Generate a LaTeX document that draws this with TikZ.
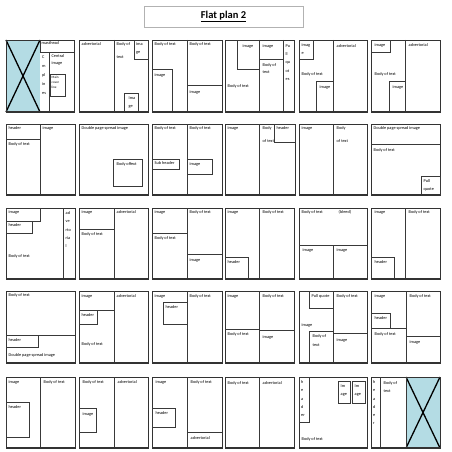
\documentclass[tikz,border=0pt]{standalone}
\usepackage{fontspec}
\setmainfont{Carlito}
\definecolor{coverblue}{RGB}{180,220,228}
\tikzset{
  frame/.style={draw=gray!40!black,line width=0.6pt},
  base/.style={draw=gray!40!black,line width=1.3pt},
  part/.style={draw=gray!45!black,line width=0.45pt},
  cover/.style={fill=coverblue},
  cross/.style={draw=black,line width=1.3pt},
  lbl/.style={font=\fontsize{4.3}{6.5}\selectfont,anchor=north west,inner sep=0.5pt,align=left},
  stack/.style={lbl,font=\fontsize{4.3}{8.2}\selectfont}
}
\begin{document}
\begin{tikzpicture}[x=1pt,y=-1pt]
  \useasboundingbox (0,0) rectangle (452,452);
  % title
  \draw[frame,draw=gray!60] (144,6) rectangle (303,27);
  \node[font=\fontsize{10.5}{12}\selectfont\bfseries] (title) at (223.5,16.5) {\underline{Flat plan 2}};

  % ---------- row 1 ----------
  \fill[cover] (6,40) rectangle (40,112);
  \draw[cross] (6,40) -- (40,112);
  \draw[cross] (40,40) -- (6,112);
  \draw[part] (40,40) rectangle (74,52);
  \draw[part] (49,52) -- (49,112);
  \draw[part] (50,74) rectangle (65,96);
  \draw[frame] (6,40) rectangle (74,112);
  \draw[base] (6,112) -- (74,112);
  \node[lbl] (a1) at (41,41) {masthead};
  \node[stack,font=\fontsize{4.3}{9}\selectfont] (a2) at (41.5,55) {C\\m\\pl\\in\\es};
  \node[lbl] (a3) at (51,54) {Central\\image};
  \node[lbl,font=\fontsize{3.3}{5}\selectfont] (a4) at (51,76) {Main\\cover\\line};

  \draw[frame] (79,40) rectangle (148,112);
  \draw[part] (114,40) -- (114,112);
  \draw[part] (134,40) rectangle (148,59);
  \draw[part] (124,93) rectangle (138,112);
  \draw[base] (79,112) -- (148,112);
  \node[lbl] (b1) at (81,42) {advertorial};
  \node[lbl,font=\fontsize{4.3}{13}\selectfont] (b2) at (116,42) {Body of\\text};
  \node[stack] (b3) at (135.5,42) {ima\\ge};
  \node[stack] (b4) at (128,96) {Ima\\ge};

  \draw[frame] (152,40) rectangle (222,112);
  \draw[part] (187,40) -- (187,112);
  \draw[part] (152,69) rectangle (172,112);
  \draw[part] (187,85) -- (222,85);
  \draw[base] (152,112) -- (222,112);
  \node[lbl] (c1) at (154,42) {Body of text};
  \node[lbl] (c2) at (189,42) {Body of text};
  \node[lbl] (c3) at (154,73) {image};
  \node[lbl] (c4) at (189,90) {image};

  \draw[frame] (225,40) rectangle (294,112);
  \draw[part] (259,40) -- (259,112);
  \draw[part] (237,40) rectangle (259,69);
  \draw[part] (259,59) -- (283,59);
  \draw[part] (283,40) -- (283,112);
  \draw[base] (225,112) -- (294,112);
  \node[lbl] (d1) at (242,44) {image};
  \node[lbl] (d2) at (227,84) {Body of text};
  \node[lbl] (d3) at (262,44) {image};
  \node[lbl] (d4) at (262,63) {Body of\\text};
  \node[stack] (d5) at (285,44) {Pu\\ll\\qu\\ot\\es};

  \draw[frame] (299,40) rectangle (367,112);
  \draw[part] (333,40) -- (333,112);
  \draw[part] (299,40) rectangle (313,59);
  \draw[part] (316,81) rectangle (333,112);
  \draw[base] (299,112) -- (367,112);
  \node[stack] (e1) at (301,43) {imag\\e};
  \node[lbl] (e2) at (301,72) {Body of text};
  \node[lbl] (e3) at (319,85) {image};
  \node[lbl] (e4) at (336,44) {advertorial};

  \draw[frame] (371,40) rectangle (440,112);
  \draw[part] (405,40) -- (405,112);
  \draw[part] (371,40) rectangle (390,52);
  \draw[part] (389,81) rectangle (405,112);
  \draw[base] (371,112) -- (440,112);
  \node[lbl] (f1) at (374,43) {image};
  \node[lbl] (f2) at (374,72) {Body of text};
  \node[lbl] (f3) at (392,85) {image};
  \node[lbl] (f4) at (408,43) {advertorial};

  % ---------- row 2 ----------
  \draw[frame] (6,124) rectangle (75,195);
  \draw[part] (40,124) -- (40,195);
  \draw[part] (6,124) rectangle (40,139);
  \draw[base] (6,195) -- (75,195);
  \node[lbl] (g1) at (8,126) {header};
  \node[lbl] (g2) at (8,142) {Body of text};
  \node[lbl] (g3) at (42,126) {image};

  \draw[frame] (79,124) rectangle (148,195);
  \draw[part] (113,159) rectangle (142,186);
  \draw[base] (79,195) -- (148,195);
  \node[lbl] (h1) at (81,126) {Double page spread image};
  \node[lbl] (h2) at (116,162) {Body offext};

  \draw[frame] (152,124) rectangle (222,195);
  \draw[part] (187,124) -- (187,195);
  \draw[part] (152,159) rectangle (179,169);
  \draw[part] (187,159) rectangle (212,174);
  \draw[base] (152,195) -- (222,195);
  \node[lbl] (i1) at (154,126) {Body of text};
  \node[lbl] (i2) at (189,126) {Body of text};
  \node[lbl] (i3) at (154,161) {Sub header};
  \node[lbl] (i4) at (189,162) {image};

  \draw[frame] (225,124) rectangle (295,195);
  \draw[part] (259,124) -- (259,195);
  \draw[part] (274,124) rectangle (295,142);
  \draw[base] (225,195) -- (295,195);
  \node[lbl] (j1) at (227,126) {image};
  \node[lbl,font=\fontsize{4.3}{13}\selectfont] (j2) at (262,126) {Body\\of text};
  \node[lbl] (j3) at (276,126) {header};

  \draw[frame] (299,124) rectangle (367,195);
  \draw[part] (333,124) -- (333,195);
  \draw[base] (299,195) -- (367,195);
  \node[lbl] (k1) at (301,126) {image};
  \node[lbl,font=\fontsize{4.3}{13}\selectfont] (k2) at (336,126) {Body\\of text};

  \draw[frame] (371,124) rectangle (440,195);
  \draw[part] (371,144) -- (440,144);
  \draw[part] (421,176) rectangle (440,195);
  \draw[base] (371,195) -- (440,195);
  \node[lbl] (l1) at (373,126) {Double page spread image};
  \node[lbl] (l2) at (373,148) {Body of text};
  \node[lbl,font=\fontsize{4.3}{8}\selectfont] (l3) at (423,179) {Pull\\quote};

  % ---------- row 3 ----------
  \draw[frame] (6,208) rectangle (75,279);
  \draw[part] (6,208) rectangle (40,221);
  \draw[part] (6,221) rectangle (32,233);
  \draw[part] (63,208) -- (63,279);
  \draw[base] (6,279) -- (75,279);
  \node[lbl] (m1) at (8,210) {image};
  \node[lbl] (m2) at (8,223) {header};
  \node[lbl] (m3) at (8,254) {Body of text};
  \node[stack] (m4) at (65,211) {ad\\ve\\rto\\ria\\l};

  \draw[frame] (79,208) rectangle (148,279);
  \draw[part] (114,208) -- (114,279);
  \draw[part] (79,229) -- (114,229);
  \draw[base] (79,279) -- (148,279);
  \node[lbl] (n1) at (81,210) {image};
  \node[lbl] (n2) at (81,232) {Body of text};
  \node[lbl] (n3) at (116,210) {advertorial};

  \draw[frame] (152,208) rectangle (222,279);
  \draw[part] (187,208) -- (187,279);
  \draw[part] (152,233) -- (187,233);
  \draw[part] (187,254) -- (222,254);
  \draw[base] (152,279) -- (222,279);
  \node[lbl] (o1) at (154,210) {image};
  \node[lbl] (o2) at (154,236) {Body of text};
  \node[lbl] (o3) at (189,210) {Body of text};
  \node[lbl] (o4) at (189,258) {image};

  \draw[frame] (225,208) rectangle (294,279);
  \draw[part] (259,208) -- (259,279);
  \draw[part] (225,257) rectangle (248,279);
  \draw[base] (225,279) -- (294,279);
  \node[lbl] (p1) at (227,210) {image};
  \node[lbl] (p2) at (227,260) {header};
  \node[lbl] (p3) at (262,210) {Body of text};

  \draw[frame] (299,208) rectangle (367,279);
  \draw[part] (299,245) -- (367,245);
  \draw[part] (333,245) -- (333,279);
  \draw[base] (299,279) -- (367,279);
  \node[lbl] (q1) at (301,210) {Body of text};
  \node[lbl] (q2) at (338,210) {(bleed)};
  \node[lbl] (q3) at (302,248) {image};
  \node[lbl] (q4) at (336,248) {image};

  \draw[frame] (371,208) rectangle (440,279);
  \draw[part] (405,208) -- (405,279);
  \draw[part] (371,257) rectangle (394,279);
  \draw[base] (371,279) -- (440,279);
  \node[lbl] (r1) at (374,210) {image};
  \node[lbl] (r2) at (374,260) {header};
  \node[lbl] (r3) at (408,210) {Body of text};

  % ---------- row 4 ----------
  \draw[frame] (6,291) rectangle (75,363);
  \draw[part] (6,335) -- (75,335);
  \draw[part] (6,335) rectangle (38,347);
  \draw[base] (6,363) -- (75,363);
  \node[lbl] (s1) at (8,293) {Body of text};
  \node[lbl] (s2) at (8,338) {header};
  \node[lbl] (s3) at (8,353) {Double page spread image};

  \draw[frame] (79,291) rectangle (148,363);
  \draw[part] (114,291) -- (114,363);
  \draw[part] (79,310) -- (114,310);
  \draw[part] (79,310) rectangle (97,324);
  \draw[base] (79,363) -- (148,363);
  \node[lbl] (t1) at (81,294) {image};
  \node[lbl] (t2) at (81,313) {header};
  \node[lbl] (t3) at (81,342) {Body of text};
  \node[lbl] (t4) at (116,294) {advertorial};

  \draw[frame] (152,291) rectangle (222,363);
  \draw[part] (187,291) -- (187,363);
  \draw[part] (163,302) rectangle (187,324);
  \draw[base] (152,363) -- (222,363);
  \node[lbl] (u1) at (154,294) {image};
  \node[lbl] (u2) at (165,305) {header};
  \node[lbl] (u3) at (189,294) {Body of text};

  \draw[frame] (225,291) rectangle (294,363);
  \draw[part] (259,291) -- (259,363);
  \draw[part] (225,329) -- (259,329);
  \draw[part] (259,330) -- (294,330);
  \draw[base] (225,363) -- (294,363);
  \node[lbl] (v1) at (227,294) {image};
  \node[lbl] (v2) at (227,332) {Body of text};
  \node[lbl] (v3) at (262,294) {Body of text};
  \node[lbl] (v4) at (262,335) {image};

  \draw[frame] (299,291) rectangle (367,363);
  \draw[part] (333,291) -- (333,363);
  \draw[part] (309,291) rectangle (333,308);
  \draw[part] (309,331) rectangle (333,363);
  \draw[part] (333,333) -- (367,333);
  \draw[base] (299,363) -- (367,363);
  \node[lbl] (w1) at (311,294) {Pull quote};
  \node[lbl] (w2) at (301,323) {image};
  \node[lbl,font=\fontsize{4.3}{8.5}\selectfont] (w3) at (312,334) {Body of\\text};
  \node[lbl] (w4) at (336,294) {Body of text};
  \node[lbl] (w5) at (336,338) {image};

  \draw[frame] (371,291) rectangle (440,363);
  \draw[part] (406,291) -- (406,363);
  \draw[part] (371,313) rectangle (390,328);
  \draw[part] (371,328) -- (406,328);
  \draw[part] (406,336) -- (440,336);
  \draw[base] (371,363) -- (440,363);
  \node[lbl] (x1) at (374,294) {image};
  \node[lbl] (x2) at (374,316) {header};
  \node[lbl] (x3) at (374,332) {Body of text};
  \node[lbl] (x4) at (409,294) {Body of text};
  \node[lbl] (x5) at (409,340) {image};

  % ---------- row 5 ----------
  \draw[frame] (6,377) rectangle (75,448);
  \draw[part] (40,377) -- (40,448);
  \draw[part] (6,402) rectangle (29,437);
  \draw[base] (6,448) -- (75,448);
  \node[lbl] (y1) at (8,380) {image};
  \node[lbl] (y2) at (8,405) {header};
  \node[lbl] (y3) at (43,380) {Body of text};

  \draw[frame] (79,377) rectangle (148,448);
  \draw[part] (114,377) -- (114,448);
  \draw[part] (79,408) rectangle (96,432);
  \draw[base] (79,448) -- (148,448);
  \node[lbl] (z1) at (82,380) {Body of text};
  \node[lbl] (z2) at (82,412) {image};
  \node[lbl] (z3) at (117,380) {advertorial};

  \draw[frame] (152,377) rectangle (222,448);
  \draw[part] (187,377) -- (187,448);
  \draw[part] (152,408) rectangle (175,427);
  \draw[part] (187,432) -- (222,432);
  \draw[base] (152,448) -- (222,448);
  \node[lbl] (aa1) at (155,380) {image};
  \node[lbl] (aa2) at (155,411) {header};
  \node[lbl] (aa3) at (190,380) {Body of text};
  \node[lbl] (aa4) at (190,436) {advertorial};

  \draw[frame] (225,377) rectangle (294,448);
  \draw[part] (259,377) -- (259,448);
  \draw[base] (225,448) -- (294,448);
  \node[lbl] (bb1) at (227,381) {Body of text};
  \node[lbl] (bb2) at (262,381) {advertorial};

  \draw[frame] (299,377) rectangle (367,448);
  \draw[part] (299,377) rectangle (309,422);
  \draw[part] (338,381) rectangle (350,403);
  \draw[part] (352,381) rectangle (365,403);
  \draw[base] (299,448) -- (367,448);
  \node[stack] (cc1) at (300.5,380) {h\\e\\a\\d\\er};
  \node[stack] (cc2) at (340,384) {Im\\age};
  \node[stack] (cc3) at (354,384) {Im\\age};
  \node[lbl] (cc4) at (301,437) {Body of text};

  \fill[cover] (406,377) rectangle (440,448);
  \draw[cross] (406,377) -- (440,448);
  \draw[cross] (440,377) -- (406,448);
  \draw[frame] (371,377) rectangle (440,448);
  \draw[part] (380,377) -- (380,448);
  \draw[part] (406,377) -- (406,448);
  \draw[base] (371,448) -- (440,448);
  \node[stack] (dd1) at (372.5,380) {h\\e\\a\\d\\e\\r};
  \node[lbl,font=\fontsize{4.3}{8}\selectfont] (dd2) at (383,381) {Body of\\text};
\end{tikzpicture}
\end{document}
